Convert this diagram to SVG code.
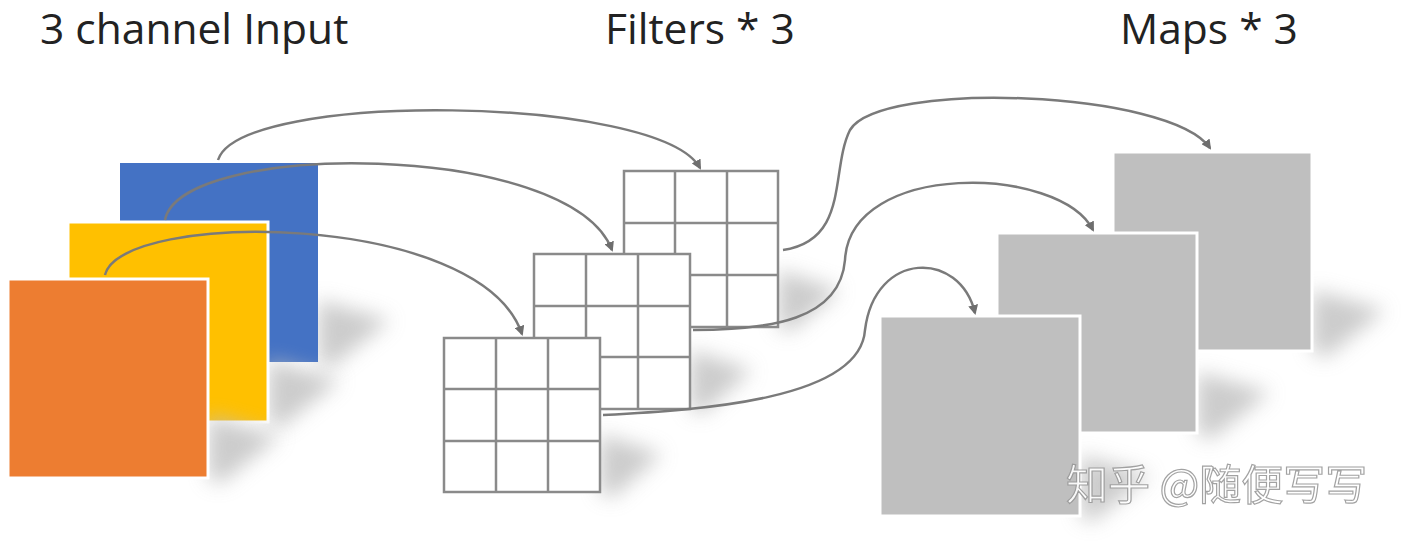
<svg xmlns="http://www.w3.org/2000/svg" width="1410" height="543" viewBox="0 0 1410 543">
<defs>
<filter id="sh" x="-50%" y="-50%" width="200%" height="200%"><feGaussianBlur stdDeviation="10"/></filter>
<marker id="ar" markerWidth="10" markerHeight="10" refX="8" refY="5" orient="auto" markerUnits="userSpaceOnUse" viewBox="0 0 10 10"><path d="M0,0 L10,5 L0,10 z" fill="#6e6e6e"/></marker>
</defs>
<style>
.t{font-family:"Open Sans","Liberation Sans",sans-serif;font-size:42.5px;fill:#222}
.g{fill:#fff;stroke:#8a8a8a;stroke-width:2.5}
.c{fill:none;stroke:#7a7a7a;stroke-width:2.5;marker-end:url(#ar)}
.s{fill:#bfbfbf;filter:url(#sh);opacity:.8}
.m{fill:#bfbfbf;stroke:#fff;stroke-width:3}
</style>
<rect width="1410" height="543" fill="#fff"/>
<text class="t" x="40" y="44">3 channel Input</text>
<text class="t" x="605" y="44">Filters * 3</text>
<text class="t" x="1120" y="44">Maps * 3</text>
<g id="input-blue"><polygon class="s" points="318,300 390,320 330,368 318,362"/><rect x="120" y="163" width="198" height="199" fill="#4472c4"/></g>
<g id="input-yellow"><polygon class="s" points="268,360 340,380 280,428 268,422"/><rect x="68" y="222" width="200" height="200" fill="#ffc000" stroke="#fff" stroke-width="3"/></g>
<g id="input-orange"><polygon class="s" points="208,416 280,436 220,484 208,478"/><rect x="8" y="279" width="200" height="199" fill="#ed7d31" stroke="#fff" stroke-width="3"/></g>
<g id="filter-back"><polygon class="s" points="778,270 840,290 790,332 778,327"/><rect class="g" x="624" y="171" width="154" height="156"/><path d="M675,171V327M727,171V327M624,223H778M624,275H778" stroke="#8a8a8a" stroke-width="2.5"/></g>
<g id="filter-mid"><polygon class="s" points="690,350 752,370 702,414 690,409"/><rect class="g" x="534" y="254" width="156" height="155"/><path d="M586,254V409M638,254V409M534,306H690M534,357H690" stroke="#8a8a8a" stroke-width="2.5"/></g>
<g id="filter-front"><polygon class="s" points="600,434 662,454 612,498 600,492"/><rect class="g" x="444" y="338" width="156" height="154"/><path d="M496,338V492M548,338V492M444,389H600M444,441H600" stroke="#8a8a8a" stroke-width="2.5"/></g>
<g id="map-back"><polygon class="s" points="1312,290 1385,310 1325,358 1312,351"/><rect class="m" x="1113" y="152" width="199" height="199"/></g>
<g id="map-mid"><polygon class="s" points="1197,372 1270,392 1210,440 1197,433"/><rect class="m" x="997" y="233" width="200" height="200"/></g>
<g id="map-front"><polygon class="s" points="1080,455 1150,475 1092,522 1080,516"/><rect class="m" x="880" y="316" width="200" height="200"/></g>
<g id="connectors">
<path class="c" d="M218,160 C240,90 660,95 700,168"/>
<path class="c" d="M165,220 C180,140 570,140 612,250"/>
<path class="c" d="M105,275 C120,210 480,210 522,334"/>
<path class="c" d="M783,250 C850,240 830,170 850,130 C880,80 1170,90 1210,148"/>
<path class="c" d="M693,330 C770,330 840,320 845,260 C850,160 1060,165 1093,230"/>
<path class="c" d="M603,415 C700,410 860,400 865,330 C875,250 960,250 975,313"/>
</g>
<text x="1066" y="500" font-family="'Noto Sans CJK SC',sans-serif" font-size="42" fill="#fff" stroke="#999" stroke-width="1.2" opacity=".9">知乎 @随便写写</text>
</svg>
